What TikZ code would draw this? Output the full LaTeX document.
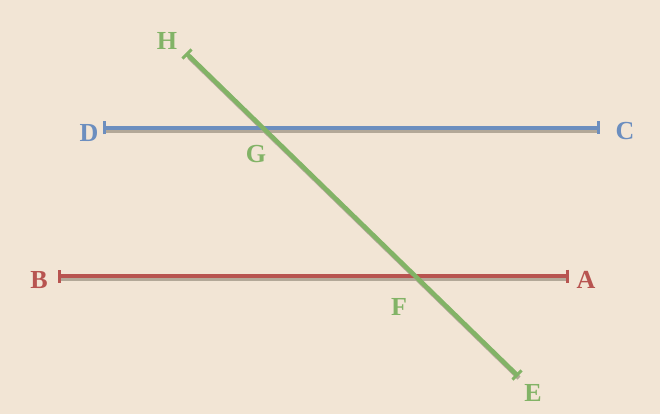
\documentclass[tikz,border=0pt]{standalone}
\usepackage{fontspec}
\setmainfont{Liberation Serif}
\usetikzlibrary{arrows.meta}
\definecolor{bg}{HTML}{F2E5D5}
\definecolor{cred}{HTML}{B85450}
\definecolor{cblue}{HTML}{6C8EBF}
\definecolor{cgreen}{HTML}{82B366}
\definecolor{cshadow}{HTML}{B3A898}
\tikzset{
  seg/.style={line width=4.5pt, {Bar[width=13pt,line width=3pt]}-{Bar[width=13pt,line width=3pt]}, shorten <=-1.5pt, shorten >=-1.5pt},
  shadowseg/.style={line width=4.5pt, cshadow},
  lbl/.style={font=\fontsize{26}{26}\selectfont\bfseries, inner sep=0pt}
}
\begin{document}
\begin{tikzpicture}[x=1pt,y=-1pt]
\fill[bg] (0,0) rectangle (660,414);
\useasboundingbox (0,0) rectangle (660,414);
\coordinate (pB) at (59,276);
\coordinate (pA) at (567,276);
\coordinate (pD) at (104,128);
\coordinate (pC) at (598,128);
\coordinate (pH) at (187,54);
\coordinate (pE) at (517,375);
% shadows
\draw[shadowseg] ([shift={(2,3)}]pB) -- ([shift={(2,3)}]pA);
\draw[shadowseg] ([shift={(2,3)}]pD) -- ([shift={(2,3)}]pC);
\draw[shadowseg] ([shift={(2,3)}]pH) -- ([shift={(2,3)}]pE);
% lines
\draw[seg, cred] (pB) -- (pA);
\draw[seg, cblue] (pD) -- (pC);
\draw[seg, cgreen] (pH) -- (pE);
% labels
\node[lbl, text=cgreen] (H) at (167,41) {H};
\node[lbl, text=cblue] (D) at (89,133) {D};
\node[lbl, text=cgreen] (G) at (256,154) {G};
\node[lbl, text=cblue] (C) at (625,131) {C};
\node[lbl, text=cred] (B) at (39,280) {B};
\node[lbl, text=cred] (A) at (586,280) {A};
\node[lbl, text=cgreen] (F) at (399,307) {F};
\node[lbl, text=cgreen] (E) at (533,393) {E};
\end{tikzpicture}
\end{document}
